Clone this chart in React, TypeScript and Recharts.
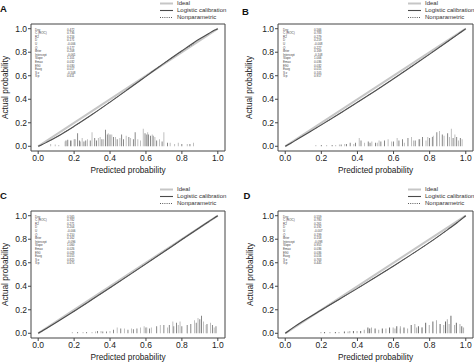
import React from 'react';
import { ComposedChart, Line, Bar, XAxis, YAxis, ReferenceArea, Legend, Label } from 'recharts';

const FONT = '"Liberation Sans", Arial, Helvetica, sans-serif';

const axisTicks = [0, 0.2, 0.4, 0.6, 0.8, 1.0];
const xTitle = 'Predicted probability';
const yTitle = 'Actual probability';
const statLabels = ['Dxy', 'C (ROC)', 'R2', 'D', 'U', 'Q', 'Brier', 'Intercept', 'Slope', 'Emax', 'E90', 'Eavg', 'S:z', 'S:p'];

const statsA = ['0.472', '0.736', '0.216', '0.171', '-0.006', '0.177', '0.208', '-0.061', '1.101', '0.032', '0.030', '0.017', '-0.508', '0.611'];
const statsB = ['0.566', '0.783', '0.279', '0.219', '-0.008', '0.227', '0.169', '-0.108', '1.006', '0.036', '0.032', '0.015', '0.105', '0.917'];
const statsC = ['0.565', '0.782', '0.271', '0.204', '-0.006', '0.210', '0.162', '-0.096', '1.060', '0.026', '0.028', '0.015', '0.825', '0.675'];
const statsD = ['0.559', '0.780', '0.261', '0.192', '-0.007', '0.199', '0.158', '-0.098', '0.955', '0.036', '0.036', '0.016', '0.763', '0.445'];

const idealX = [0, 1];
const idealY = [0, 1];

const logisticX = [0, 0.02, 0.05, 0.1, 0.2, 0.3, 0.4, 0.5, 0.6, 0.7, 0.8, 0.9, 0.95, 0.98, 1];
const logisticA = [0, 0.013, 0.036, 0.077, 0.17, 0.27, 0.376, 0.485, 0.595, 0.705, 0.812, 0.914, 0.96, 0.986, 1];
const logisticB = [0, 0.018, 0.044, 0.09, 0.182, 0.277, 0.374, 0.473, 0.574, 0.678, 0.784, 0.891, 0.945, 0.978, 1];
const logisticC = [0, 0.017, 0.045, 0.092, 0.188, 0.287, 0.387, 0.488, 0.59, 0.693, 0.797, 0.9, 0.951, 0.981, 1];
const logisticD = [0, 0.022, 0.055, 0.105, 0.198, 0.29, 0.382, 0.476, 0.572, 0.671, 0.773, 0.882, 0.938, 0.975, 1];

const nonparXA = [0.07, 0.15, 0.25, 0.35, 0.45, 0.55, 0.65, 0.75, 0.87];
const nonparA = [0.052, 0.123, 0.219, 0.323, 0.431, 0.541, 0.652, 0.758, 0.878];
const nonparXB = [0.17, 0.25, 0.35, 0.45, 0.55, 0.65, 0.75, 0.85, 0.98];
const nonparB = [0.155, 0.229, 0.325, 0.423, 0.524, 0.627, 0.732, 0.838, 0.978];
const nonparXC = [0.19, 0.3, 0.4, 0.5, 0.6, 0.7, 0.8, 0.9, 0.99];
const nonparC = [0.178, 0.287, 0.387, 0.489, 0.592, 0.694, 0.797, 0.9, 0.99];
const nonparXD = [0.2, 0.3, 0.4, 0.5, 0.6, 0.7, 0.8, 0.9, 0.99];
const nonparD = [0.198, 0.29, 0.382, 0.477, 0.572, 0.671, 0.773, 0.882, 0.988];

// histogram spikes: [predicted probability, spike height]
const spikesADark = [[0.155, 0.05], [0.165, 0.055], [0.18, 0.05], [0.205, 0.06], [0.22, 0.11], [0.23, 0.05], [0.255, 0.04], [0.265, 0.05], [0.29, 0.05], [0.315, 0.07], [0.325, 0.05], [0.355, 0.06], [0.375, 0.14], [0.385, 0.1], [0.4, 0.1], [0.42, 0.08], [0.44, 0.06], [0.465, 0.1], [0.475, 0.06], [0.505, 0.08], [0.53, 0.06], [0.54, 0.12], [0.595, 0.11], [0.605, 0.1], [0.615, 0.1], [0.625, 0.09], [0.64, 0.09], [0.66, 0.05], [0.69, 0.04], [0.72, 0.03], [0.8, 0.02], [0.845, 0.02]];
const spikesALight = [[0.07, 0.02], [0.095, 0.015], [0.115, 0.01], [0.15, 0.04], [0.185, 0.05], [0.2, 0.06], [0.235, 0.04], [0.245, 0.07], [0.275, 0.06], [0.3, 0.12], [0.335, 0.07], [0.345, 0.08], [0.365, 0.06], [0.39, 0.11], [0.41, 0.1], [0.43, 0.08], [0.455, 0.07], [0.49, 0.09], [0.515, 0.07], [0.555, 0.06], [0.57, 0.05], [0.585, 0.15], [0.61, 0.12], [0.635, 0.1], [0.65, 0.08], [0.675, 0.06], [0.7, 0.12], [0.735, 0.03], [0.76, 0.02], [0.78, 0.03], [0.83, 0.02], [0.865, 0.03]];
const spikesBDark = [[0.2, 0.01], [0.26, 0.01], [0.31, 0.015], [0.34, 0.02], [0.36, 0.03], [0.39, 0.03], [0.42, 0.05], [0.46, 0.04], [0.47, 0.03], [0.5, 0.03], [0.53, 0.04], [0.55, 0.05], [0.6, 0.04], [0.63, 0.05], [0.65, 0.06], [0.68, 0.07], [0.72, 0.05], [0.745, 0.06], [0.76, 0.08], [0.8, 0.07], [0.815, 0.08], [0.84, 0.12], [0.87, 0.1], [0.9, 0.11], [0.93, 0.07], [0.95, 0.08], [0.97, 0.07]];
const spikesBLight = [[0.17, 0.01], [0.23, 0.01], [0.28, 0.01], [0.3, 0.015], [0.33, 0.02], [0.38, 0.02], [0.41, 0.07], [0.44, 0.03], [0.48, 0.04], [0.51, 0.03], [0.52, 0.05], [0.57, 0.06], [0.59, 0.04], [0.62, 0.07], [0.66, 0.03], [0.7, 0.08], [0.71, 0.05], [0.74, 0.06], [0.78, 0.05], [0.79, 0.08], [0.82, 0.09], [0.855, 0.13], [0.88, 0.09], [0.91, 0.08], [0.92, 0.15], [0.94, 0.1], [0.96, 0.05], [0.98, 0.06]];
const spikesCDark = [[0.22, 0.01], [0.27, 0.01], [0.33, 0.02], [0.36, 0.015], [0.38, 0.015], [0.42, 0.03], [0.46, 0.04], [0.5, 0.03], [0.53, 0.035], [0.55, 0.04], [0.6, 0.05], [0.62, 0.04], [0.66, 0.06], [0.7, 0.07], [0.73, 0.07], [0.755, 0.06], [0.77, 0.09], [0.8, 0.06], [0.83, 0.07], [0.85, 0.08], [0.88, 0.09], [0.9, 0.12], [0.91, 0.15], [0.94, 0.08], [0.97, 0.07], [0.99, 0.06]];
const spikesCLight = [[0.19, 0.01], [0.25, 0.01], [0.3, 0.01], [0.32, 0.015], [0.35, 0.02], [0.4, 0.02], [0.44, 0.05], [0.48, 0.04], [0.52, 0.04], [0.57, 0.05], [0.59, 0.06], [0.605, 0.05], [0.63, 0.05], [0.68, 0.07], [0.72, 0.05], [0.75, 0.1], [0.78, 0.07], [0.79, 0.1], [0.83, 0.07], [0.87, 0.11], [0.89, 0.13], [0.92, 0.1], [0.935, 0.07], [0.96, 0.09], [0.98, 0.05]];
const spikesDDark = [[0.22, 0.01], [0.28, 0.01], [0.33, 0.015], [0.38, 0.02], [0.42, 0.02], [0.46, 0.05], [0.47, 0.04], [0.5, 0.04], [0.54, 0.04], [0.58, 0.05], [0.62, 0.06], [0.64, 0.04], [0.66, 0.05], [0.7, 0.07], [0.74, 0.06], [0.76, 0.05], [0.78, 0.09], [0.82, 0.1], [0.84, 0.07], [0.86, 0.08], [0.89, 0.1], [0.92, 0.15], [0.95, 0.09], [0.98, 0.06]];
const spikesDLight = [[0.2, 0.01], [0.25, 0.01], [0.3, 0.01], [0.35, 0.015], [0.36, 0.02], [0.4, 0.02], [0.44, 0.03], [0.48, 0.05], [0.52, 0.03], [0.56, 0.04], [0.6, 0.05], [0.61, 0.04], [0.64, 0.06], [0.68, 0.04], [0.72, 0.08], [0.73, 0.05], [0.76, 0.05], [0.8, 0.07], [0.84, 0.11], [0.88, 0.07], [0.9, 0.12], [0.91, 0.08], [0.94, 0.07], [0.97, 0.08], [0.99, 0.05]];

const seriesStyles: Record<string, { stroke: string; strokeWidth: number; dash?: string }> = {
  'Ideal': { stroke: '#c6c6c6', strokeWidth: 2 },
  'Logistic calibration': { stroke: '#4a4a4a', strokeWidth: 1.1 },
  'Nonparametric': { stroke: '#5a5a5a', strokeWidth: 1, dash: '1 1.2' },
};

const toPoints = (xs: number[], ys: number[]) => xs.map((p, i) => ({ p, y: ys[i] }));
const toRows = (dark: number[][], light: number[][]) =>
  [...dark.map(([p, h]) => ({ p, dark: h })), ...light.map(([p, h]) => ({ p, light: h }))].sort((a, b) => a.p - b.p);

type Layout = {
  left: number; top: number; width: number; height: number;
  margin: { top: number; right: number; bottom: number; left: number };
  yAxisWidth: number; yTitleX: number;
  letterX: number; letterY: number;
  legendLeft: number; legendTop: number;
  statX: number; valueX: number; statY: number;
};

const layouts: Layout[] = [
  { left: 0, top: 0, width: 237, height: 182, margin: { top: 24, right: 12, bottom: 6, left: 0 }, yAxisWidth: 31, yTitleX: 7.5, letterX: 0, letterY: 11.5, legendLeft: 160, legendTop: -0.5, statX: 35, valueX: 67, statY: 30.6 },
  { left: 237, top: 0, width: 237, height: 182, margin: { top: 24, right: 1, bottom: 6, left: 0 }, yAxisWidth: 41, yTitleX: 15, letterX: 5, letterY: 15, legendLeft: 171, legendTop: -0.5, statX: 46, valueX: 77, statY: 30.6 },
  { left: 0, top: 182, width: 237, height: 181, margin: { top: 29, right: 12, bottom: 0, left: 0 }, yAxisWidth: 31, yTitleX: 7.5, letterX: 0, letterY: 17.3, legendLeft: 160, legendTop: 3.5, statX: 35, valueX: 67, statY: 35.6 },
  { left: 237, top: 182, width: 237, height: 181, margin: { top: 29, right: 1, bottom: 0, left: 0 }, yAxisWidth: 41, yTitleX: 15.5, letterX: 6.5, letterY: 17.3, legendLeft: 171, legendTop: 3.5, statX: 46, valueX: 77, statY: 35.6 },
];

const panels = [
  { letter: 'A', stats: statsA, logistic: logisticA, npX: nonparXA, np: nonparA, dark: spikesADark, light: spikesALight },
  { letter: 'B', stats: statsB, logistic: logisticB, npX: nonparXB, np: nonparB, dark: spikesBDark, light: spikesBLight },
  { letter: 'C', stats: statsC, logistic: logisticC, npX: nonparXC, np: nonparC, dark: spikesCDark, light: spikesCLight },
  { letter: 'D', stats: statsD, logistic: logisticD, npX: nonparXD, np: nonparD, dark: spikesDDark, light: spikesDLight },
];

const tickStyle = { fontSize: 8.5, fill: '#222', fontFamily: FONT };

const renderLegend = (props: any) => {
  const items = (props.payload || []).filter((e: any) => e.type !== 'none');
  return (
    <div style={{ fontFamily: FONT, fontSize: 6, color: '#333' }}>
      {items.map((e: any) => {
        const s = seriesStyles[e.value] || { stroke: '#444', strokeWidth: 1 };
        return (
          <div key={e.value} style={{ display: 'flex', alignItems: 'center', height: 7, whiteSpace: 'nowrap' }}>
            <svg width={17} height={7} style={{ display: 'block' }}>
              <line x1={0} x2={13} y1={3.5} y2={3.5} stroke={s.stroke} strokeWidth={s.strokeWidth} strokeDasharray={s.dash} />
            </svg>
            <span style={{ lineHeight: '7px' }}>{e.value}</span>
          </div>
        );
      })}
    </div>
  );
};

function Panel({ cfg, data }: { cfg: Layout; data: typeof panels[number] }) {
  const rows = toRows(data.dark, data.light);
  const ideal = toPoints(idealX, idealY);
  const logistic = toPoints(logisticX, data.logistic);
  const nonpar = toPoints(data.npX, data.np);
  return (
    <div style={{ position: 'absolute', left: cfg.left, top: cfg.top, width: cfg.width, height: cfg.height }}>
      <ComposedChart width={cfg.width} height={cfg.height} data={rows} margin={cfg.margin}>
        <ReferenceArea x1={-0.04} x2={1.04} y1={-0.04} y2={1.04} fill="none" stroke="#444" strokeWidth={1} ifOverflow="visible" />
        <XAxis
          type="number"
          dataKey="p"
          domain={[-0.04, 1.04]}
          ticks={axisTicks}
          allowDataOverflow
          interval={0}
          tickFormatter={(v: number) => v.toFixed(1)}
          height={25}
          axisLine={false}
          tickLine={{ stroke: '#444' }}
          tickSize={3}
          tickMargin={1}
          tick={tickStyle}
        >
          <Label
            content={(props: any) => {
              const vb = props.viewBox || {};
              return (
                <text x={vb.x + vb.width / 2} y={vb.y + 21.5} textAnchor="middle" fontSize={8.3} fill="#222" fontFamily={FONT}>
                  {xTitle}
                </text>
              );
            }}
          />
        </XAxis>
        <YAxis
          type="number"
          domain={[-0.04, 1.04]}
          ticks={axisTicks}
          allowDataOverflow
          interval={0}
          tickFormatter={(v: number) => v.toFixed(1)}
          width={cfg.yAxisWidth}
          axisLine={false}
          tickLine={{ stroke: '#444' }}
          tickSize={3}
          tickMargin={1}
          tick={tickStyle}
        >
          <Label
            content={(props: any) => {
              const vb = props.viewBox || {};
              const cx = vb.x + cfg.yTitleX;
              const cy = vb.y + vb.height / 2;
              return (
                <text x={cx} y={cy} transform={`rotate(-90, ${cx}, ${cy})`} textAnchor="middle" fontSize={8.3} fill="#222" fontFamily={FONT}>
                  {yTitle}
                </text>
              );
            }}
          />
        </YAxis>
        <Bar dataKey="dark" stackId="s" fill="#6c6c6c" barSize={1} legendType="none" isAnimationActive={false} />
        <Bar dataKey="light" stackId="s" fill="#b0b0b0" barSize={1} legendType="none" isAnimationActive={false} />
        {(['Ideal', 'Logistic calibration', 'Nonparametric'] as const).map((name) => {
          const s = seriesStyles[name];
          const d = name === 'Ideal' ? ideal : name === 'Logistic calibration' ? logistic : nonpar;
          return (
            <Line
              key={name}
              name={name}
              data={d}
              dataKey="y"
              type="monotone"
              stroke={s.stroke}
              strokeWidth={s.strokeWidth}
              strokeDasharray={s.dash}
              dot={false}
              activeDot={false}
              isAnimationActive={false}
            />
          );
        })}
        <Legend
          layout="vertical"
          align="center"
          verticalAlign="middle"
          content={renderLegend}
          wrapperStyle={{ left: cfg.legendLeft, top: cfg.legendTop, width: 'auto', height: 'auto' }}
        />
      </ComposedChart>
      <svg width={cfg.width} height={cfg.height} style={{ position: 'absolute', left: 0, top: 0, pointerEvents: 'none', overflow: 'visible' }}>
        <text x={cfg.letterX} y={cfg.letterY} fontSize={9.5} fontWeight="bold" fill="#111" fontFamily={FONT}>
          {data.letter}
        </text>
        {statLabels.map((lab, i) => (
          <g key={lab}>
            <text x={cfg.statX} y={cfg.statY + i * 3.6} fontSize={3} fill="#444" fontFamily={FONT}>{lab}</text>
            <text x={cfg.valueX} y={cfg.statY + i * 3.6} fontSize={3} fill="#444" fontFamily={FONT}>{data.stats[i]}</text>
          </g>
        ))}
      </svg>
    </div>
  );
}

export default function App() {
  return (
    <div style={{ position: 'absolute', left: 0, top: 0, width: 474, height: 363, background: '#fff', overflow: 'hidden' }}>
      {panels.map((p, i) => (
        <Panel key={p.letter} cfg={layouts[i]} data={p} />
      ))}
    </div>
  );
}
